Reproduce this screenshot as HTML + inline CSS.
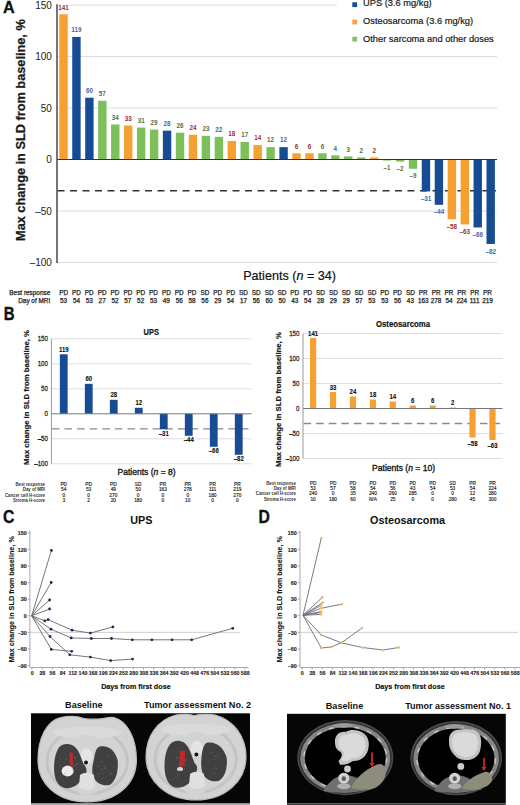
<!DOCTYPE html>
<html><head><meta charset="utf-8"><title>Figure</title>
<style>
html,body{margin:0;padding:0;background:#fff;width:520px;height:805px;overflow:hidden}
svg{display:block}
text{font-family:"Liberation Sans", sans-serif}
</style></head><body>
<svg width="520" height="805" viewBox="0 0 520 805">
<rect width="520" height="805" fill="#fff"/>
<text transform="translate(3.1,12.8) scale(1,1.02)" font-size="16.2" font-weight="bold" fill="#111" stroke="#111" stroke-width="0.3">A</text>
<text transform="translate(24.80,130.10) rotate(-90)" font-size="12.75" font-weight="bold" text-anchor="middle" fill="#1a1a1a" stroke="#1a1a1a" stroke-width="0.25">Max change in SLD from baseline, %</text>
<line x1="69.00" y1="5.00" x2="337.00" y2="5.00" stroke="#dcdcdc" stroke-width="1"/>
<line x1="57.00" y1="56.50" x2="497.00" y2="56.50" stroke="#dcdcdc" stroke-width="1"/>
<line x1="57.00" y1="108.00" x2="497.00" y2="108.00" stroke="#dcdcdc" stroke-width="1"/>
<line x1="57.00" y1="211.00" x2="497.00" y2="211.00" stroke="#dcdcdc" stroke-width="1"/>
<line x1="57.00" y1="262.50" x2="497.00" y2="262.50" stroke="#dcdcdc" stroke-width="1"/>
<text x="51.90" y="8.60" font-size="10" text-anchor="end" fill="#222">150</text>
<text x="51.90" y="60.10" font-size="10" text-anchor="end" fill="#222">100</text>
<text x="51.90" y="111.60" font-size="10" text-anchor="end" fill="#222">50</text>
<text x="51.90" y="163.10" font-size="10" text-anchor="end" fill="#222">0</text>
<text x="51.90" y="214.60" font-size="10" text-anchor="end" fill="#222">&#8211;50</text>
<text x="51.90" y="266.10" font-size="10" text-anchor="end" fill="#222">&#8211;100</text>
<line x1="57.50" y1="190.80" x2="496.00" y2="190.80" stroke="#333" stroke-width="1.5" stroke-dasharray="7 5.5"/>
<rect x="59.30" y="14.27" width="8.40" height="145.23" fill="#F5A031"/>
<text x="63.50" y="9.57" font-size="6.3" font-weight="bold" text-anchor="middle" fill="#9a3034">141</text>
<rect x="72.24" y="36.93" width="8.40" height="122.57" fill="#174C94"/>
<text x="76.44" y="32.23" font-size="6.3" font-weight="bold" text-anchor="middle" fill="#4a66a2">119</text>
<rect x="85.19" y="97.70" width="8.40" height="61.80" fill="#174C94"/>
<text x="89.39" y="93.00" font-size="6.3" font-weight="bold" text-anchor="middle" fill="#4a66a2">60</text>
<rect x="98.14" y="100.79" width="8.40" height="58.71" fill="#7DBF5B"/>
<text x="102.34" y="96.09" font-size="6.3" font-weight="bold" text-anchor="middle" fill="#53703f">57</text>
<rect x="111.08" y="124.48" width="8.40" height="35.02" fill="#7DBF5B"/>
<text x="115.28" y="119.78" font-size="6.3" font-weight="bold" text-anchor="middle" fill="#53703f">34</text>
<rect x="124.02" y="125.51" width="8.40" height="33.99" fill="#F5A031"/>
<text x="128.22" y="120.81" font-size="6.3" font-weight="bold" text-anchor="middle" fill="#9a3034">33</text>
<rect x="136.97" y="127.57" width="8.40" height="31.93" fill="#7DBF5B"/>
<text x="141.17" y="122.87" font-size="6.3" font-weight="bold" text-anchor="middle" fill="#53703f">31</text>
<rect x="149.92" y="129.63" width="8.40" height="29.87" fill="#7DBF5B"/>
<text x="154.12" y="124.93" font-size="6.3" font-weight="bold" text-anchor="middle" fill="#53703f">29</text>
<rect x="162.86" y="130.66" width="8.40" height="28.84" fill="#174C94"/>
<text x="167.06" y="125.96" font-size="6.3" font-weight="bold" text-anchor="middle" fill="#4a66a2">28</text>
<rect x="175.81" y="132.72" width="8.40" height="26.78" fill="#7DBF5B"/>
<text x="180.00" y="128.02" font-size="6.3" font-weight="bold" text-anchor="middle" fill="#53703f">26</text>
<rect x="188.75" y="134.78" width="8.40" height="24.72" fill="#F5A031"/>
<text x="192.95" y="130.08" font-size="6.3" font-weight="bold" text-anchor="middle" fill="#9a3034">24</text>
<rect x="201.70" y="135.81" width="8.40" height="23.69" fill="#7DBF5B"/>
<text x="205.90" y="131.11" font-size="6.3" font-weight="bold" text-anchor="middle" fill="#53703f">23</text>
<rect x="214.64" y="136.84" width="8.40" height="22.66" fill="#7DBF5B"/>
<text x="218.84" y="132.14" font-size="6.3" font-weight="bold" text-anchor="middle" fill="#53703f">22</text>
<rect x="227.59" y="140.96" width="8.40" height="18.54" fill="#F5A031"/>
<text x="231.78" y="136.26" font-size="6.3" font-weight="bold" text-anchor="middle" fill="#9a3034">18</text>
<rect x="240.53" y="141.99" width="8.40" height="17.51" fill="#7DBF5B"/>
<text x="244.73" y="137.29" font-size="6.3" font-weight="bold" text-anchor="middle" fill="#53703f">17</text>
<rect x="253.48" y="145.08" width="8.40" height="14.42" fill="#F5A031"/>
<text x="257.68" y="140.38" font-size="6.3" font-weight="bold" text-anchor="middle" fill="#9a3034">14</text>
<rect x="266.42" y="147.14" width="8.40" height="12.36" fill="#7DBF5B"/>
<text x="270.62" y="142.44" font-size="6.3" font-weight="bold" text-anchor="middle" fill="#53703f">12</text>
<rect x="279.37" y="147.14" width="8.40" height="12.36" fill="#174C94"/>
<text x="283.56" y="142.44" font-size="6.3" font-weight="bold" text-anchor="middle" fill="#4a66a2">12</text>
<rect x="292.31" y="153.32" width="8.40" height="6.18" fill="#F5A031"/>
<text x="296.51" y="148.62" font-size="6.3" font-weight="bold" text-anchor="middle" fill="#9a3034">6</text>
<rect x="305.26" y="153.32" width="8.40" height="6.18" fill="#F5A031"/>
<text x="309.46" y="148.62" font-size="6.3" font-weight="bold" text-anchor="middle" fill="#9a3034">6</text>
<rect x="318.20" y="153.32" width="8.40" height="6.18" fill="#7DBF5B"/>
<text x="322.40" y="148.62" font-size="6.3" font-weight="bold" text-anchor="middle" fill="#53703f">6</text>
<rect x="331.15" y="155.38" width="8.40" height="4.12" fill="#7DBF5B"/>
<text x="335.35" y="150.68" font-size="6.3" font-weight="bold" text-anchor="middle" fill="#53703f">4</text>
<rect x="344.09" y="156.41" width="8.40" height="3.09" fill="#7DBF5B"/>
<text x="348.29" y="151.71" font-size="6.3" font-weight="bold" text-anchor="middle" fill="#53703f">3</text>
<rect x="357.04" y="157.44" width="8.40" height="2.06" fill="#7DBF5B"/>
<text x="361.24" y="152.74" font-size="6.3" font-weight="bold" text-anchor="middle" fill="#53703f">2</text>
<rect x="369.98" y="157.44" width="8.40" height="2.06" fill="#F5A031"/>
<text x="374.18" y="152.74" font-size="6.3" font-weight="bold" text-anchor="middle" fill="#9a3034">2</text>
<rect x="382.93" y="159.50" width="8.40" height="1.03" fill="#7DBF5B"/>
<text x="387.12" y="170.13" font-size="6.3" font-weight="bold" text-anchor="middle" fill="#53703f">&#8211;1</text>
<rect x="395.87" y="159.50" width="8.40" height="2.06" fill="#7DBF5B"/>
<text x="400.07" y="171.16" font-size="6.3" font-weight="bold" text-anchor="middle" fill="#53703f">&#8211;2</text>
<rect x="408.81" y="159.50" width="8.40" height="9.27" fill="#7DBF5B"/>
<text x="413.01" y="178.37" font-size="6.3" font-weight="bold" text-anchor="middle" fill="#53703f">&#8211;9</text>
<rect x="421.76" y="159.50" width="8.40" height="31.93" fill="#174C94"/>
<text x="425.96" y="201.03" font-size="6.3" font-weight="bold" text-anchor="middle" fill="#4a66a2">&#8211;31</text>
<rect x="434.71" y="159.50" width="8.40" height="45.32" fill="#174C94"/>
<text x="438.91" y="214.42" font-size="6.3" font-weight="bold" text-anchor="middle" fill="#4a66a2">&#8211;44</text>
<rect x="447.65" y="159.50" width="8.40" height="59.74" fill="#F5A031"/>
<text x="451.85" y="228.84" font-size="6.3" font-weight="bold" text-anchor="middle" fill="#9a3034">&#8211;58</text>
<rect x="460.60" y="159.50" width="8.40" height="64.89" fill="#F5A031"/>
<text x="464.80" y="233.99" font-size="6.3" font-weight="bold" text-anchor="middle" fill="#9a3034">&#8211;63</text>
<rect x="473.54" y="159.50" width="8.40" height="67.98" fill="#174C94"/>
<text x="477.74" y="237.08" font-size="6.3" font-weight="bold" text-anchor="middle" fill="#4a66a2">&#8211;66</text>
<rect x="486.49" y="159.50" width="8.40" height="84.46" fill="#174C94"/>
<text x="490.69" y="253.56" font-size="6.3" font-weight="bold" text-anchor="middle" fill="#4a66a2">&#8211;82</text>
<line x1="57.00" y1="159.50" x2="497.00" y2="159.50" stroke="#333" stroke-width="1.2"/>
<line x1="57.00" y1="4.30" x2="57.00" y2="263.00" stroke="#484848" stroke-width="1.5"/>
<rect x="337.00" y="0.00" width="183.00" height="48.00" fill="#fff"/>
<rect x="352.30" y="2.30" width="4.80" height="4.80" fill="#174C94"/>
<text x="363.00" y="6.30" font-size="9.3" fill="#1a1a1a" stroke="#1a1a1a" stroke-width="0.2">UPS (3.6 mg/kg)</text>
<rect x="352.30" y="19.60" width="4.80" height="4.80" fill="#F2A24A"/>
<text x="363.00" y="24.10" font-size="9.3" fill="#1a1a1a" stroke="#1a1a1a" stroke-width="0.2">Osteosarcoma (3.6 mg/kg)</text>
<rect x="352.30" y="36.80" width="4.80" height="4.80" fill="#86C068"/>
<text x="363.00" y="41.90" font-size="9.3" fill="#1a1a1a" stroke="#1a1a1a" stroke-width="0.2">Other sarcoma and other doses</text>
<text x="289.60" y="279.80" font-size="12.6" text-anchor="middle" fill="#111" stroke="#111" stroke-width="0.2">Patients (<tspan font-style="italic">n</tspan> = 34)</text>
<text x="50.20" y="295.30" font-size="6.4" text-anchor="end" fill="#222" stroke="#222" stroke-width="0.25">Best response</text>
<text x="50.20" y="303.00" font-size="6.4" text-anchor="end" fill="#222" stroke="#222" stroke-width="0.25">Day of MRI</text>
<text x="63.60" y="295.30" font-size="6.4" text-anchor="middle" fill="#222" stroke="#222" stroke-width="0.25">PD</text>
<text x="63.60" y="303.00" font-size="6.4" text-anchor="middle" fill="#222" stroke="#222" stroke-width="0.25">53</text>
<text x="76.45" y="295.30" font-size="6.4" text-anchor="middle" fill="#222" stroke="#222" stroke-width="0.25">PD</text>
<text x="76.45" y="303.00" font-size="6.4" text-anchor="middle" fill="#222" stroke="#222" stroke-width="0.25">54</text>
<text x="89.29" y="295.30" font-size="6.4" text-anchor="middle" fill="#222" stroke="#222" stroke-width="0.25">PD</text>
<text x="89.29" y="303.00" font-size="6.4" text-anchor="middle" fill="#222" stroke="#222" stroke-width="0.25">53</text>
<text x="102.14" y="295.30" font-size="6.4" text-anchor="middle" fill="#222" stroke="#222" stroke-width="0.25">PD</text>
<text x="102.14" y="303.00" font-size="6.4" text-anchor="middle" fill="#222" stroke="#222" stroke-width="0.25">27</text>
<text x="114.98" y="295.30" font-size="6.4" text-anchor="middle" fill="#222" stroke="#222" stroke-width="0.25">PD</text>
<text x="114.98" y="303.00" font-size="6.4" text-anchor="middle" fill="#222" stroke="#222" stroke-width="0.25">52</text>
<text x="127.83" y="295.30" font-size="6.4" text-anchor="middle" fill="#222" stroke="#222" stroke-width="0.25">PD</text>
<text x="127.83" y="303.00" font-size="6.4" text-anchor="middle" fill="#222" stroke="#222" stroke-width="0.25">57</text>
<text x="140.67" y="295.30" font-size="6.4" text-anchor="middle" fill="#222" stroke="#222" stroke-width="0.25">PD</text>
<text x="140.67" y="303.00" font-size="6.4" text-anchor="middle" fill="#222" stroke="#222" stroke-width="0.25">52</text>
<text x="153.52" y="295.30" font-size="6.4" text-anchor="middle" fill="#222" stroke="#222" stroke-width="0.25">PD</text>
<text x="153.52" y="303.00" font-size="6.4" text-anchor="middle" fill="#222" stroke="#222" stroke-width="0.25">53</text>
<text x="166.36" y="295.30" font-size="6.4" text-anchor="middle" fill="#222" stroke="#222" stroke-width="0.25">PD</text>
<text x="166.36" y="303.00" font-size="6.4" text-anchor="middle" fill="#222" stroke="#222" stroke-width="0.25">49</text>
<text x="179.21" y="295.30" font-size="6.4" text-anchor="middle" fill="#222" stroke="#222" stroke-width="0.25">PD</text>
<text x="179.21" y="303.00" font-size="6.4" text-anchor="middle" fill="#222" stroke="#222" stroke-width="0.25">56</text>
<text x="192.05" y="295.30" font-size="6.4" text-anchor="middle" fill="#222" stroke="#222" stroke-width="0.25">PD</text>
<text x="192.05" y="303.00" font-size="6.4" text-anchor="middle" fill="#222" stroke="#222" stroke-width="0.25">58</text>
<text x="204.90" y="295.30" font-size="6.4" text-anchor="middle" fill="#222" stroke="#222" stroke-width="0.25">SD</text>
<text x="204.90" y="303.00" font-size="6.4" text-anchor="middle" fill="#222" stroke="#222" stroke-width="0.25">56</text>
<text x="217.74" y="295.30" font-size="6.4" text-anchor="middle" fill="#222" stroke="#222" stroke-width="0.25">PD</text>
<text x="217.74" y="303.00" font-size="6.4" text-anchor="middle" fill="#222" stroke="#222" stroke-width="0.25">29</text>
<text x="230.59" y="295.30" font-size="6.4" text-anchor="middle" fill="#222" stroke="#222" stroke-width="0.25">PD</text>
<text x="230.59" y="303.00" font-size="6.4" text-anchor="middle" fill="#222" stroke="#222" stroke-width="0.25">54</text>
<text x="243.43" y="295.30" font-size="6.4" text-anchor="middle" fill="#222" stroke="#222" stroke-width="0.25">SD</text>
<text x="243.43" y="303.00" font-size="6.4" text-anchor="middle" fill="#222" stroke="#222" stroke-width="0.25">17</text>
<text x="256.28" y="295.30" font-size="6.4" text-anchor="middle" fill="#222" stroke="#222" stroke-width="0.25">SD</text>
<text x="256.28" y="303.00" font-size="6.4" text-anchor="middle" fill="#222" stroke="#222" stroke-width="0.25">56</text>
<text x="269.12" y="295.30" font-size="6.4" text-anchor="middle" fill="#222" stroke="#222" stroke-width="0.25">SD</text>
<text x="269.12" y="303.00" font-size="6.4" text-anchor="middle" fill="#222" stroke="#222" stroke-width="0.25">60</text>
<text x="281.97" y="295.30" font-size="6.4" text-anchor="middle" fill="#222" stroke="#222" stroke-width="0.25">SD</text>
<text x="281.97" y="303.00" font-size="6.4" text-anchor="middle" fill="#222" stroke="#222" stroke-width="0.25">50</text>
<text x="294.81" y="295.30" font-size="6.4" text-anchor="middle" fill="#222" stroke="#222" stroke-width="0.25">PD</text>
<text x="294.81" y="303.00" font-size="6.4" text-anchor="middle" fill="#222" stroke="#222" stroke-width="0.25">43</text>
<text x="307.66" y="295.30" font-size="6.4" text-anchor="middle" fill="#222" stroke="#222" stroke-width="0.25">PD</text>
<text x="307.66" y="303.00" font-size="6.4" text-anchor="middle" fill="#222" stroke="#222" stroke-width="0.25">54</text>
<text x="320.50" y="295.30" font-size="6.4" text-anchor="middle" fill="#222" stroke="#222" stroke-width="0.25">SD</text>
<text x="320.50" y="303.00" font-size="6.4" text-anchor="middle" fill="#222" stroke="#222" stroke-width="0.25">28</text>
<text x="333.35" y="295.30" font-size="6.4" text-anchor="middle" fill="#222" stroke="#222" stroke-width="0.25">SD</text>
<text x="333.35" y="303.00" font-size="6.4" text-anchor="middle" fill="#222" stroke="#222" stroke-width="0.25">29</text>
<text x="346.19" y="295.30" font-size="6.4" text-anchor="middle" fill="#222" stroke="#222" stroke-width="0.25">SD</text>
<text x="346.19" y="303.00" font-size="6.4" text-anchor="middle" fill="#222" stroke="#222" stroke-width="0.25">29</text>
<text x="359.04" y="295.30" font-size="6.4" text-anchor="middle" fill="#222" stroke="#222" stroke-width="0.25">SD</text>
<text x="359.04" y="303.00" font-size="6.4" text-anchor="middle" fill="#222" stroke="#222" stroke-width="0.25">57</text>
<text x="371.88" y="295.30" font-size="6.4" text-anchor="middle" fill="#222" stroke="#222" stroke-width="0.25">SD</text>
<text x="371.88" y="303.00" font-size="6.4" text-anchor="middle" fill="#222" stroke="#222" stroke-width="0.25">53</text>
<text x="384.73" y="295.30" font-size="6.4" text-anchor="middle" fill="#222" stroke="#222" stroke-width="0.25">PD</text>
<text x="384.73" y="303.00" font-size="6.4" text-anchor="middle" fill="#222" stroke="#222" stroke-width="0.25">53</text>
<text x="397.57" y="295.30" font-size="6.4" text-anchor="middle" fill="#222" stroke="#222" stroke-width="0.25">PD</text>
<text x="397.57" y="303.00" font-size="6.4" text-anchor="middle" fill="#222" stroke="#222" stroke-width="0.25">56</text>
<text x="410.42" y="295.30" font-size="6.4" text-anchor="middle" fill="#222" stroke="#222" stroke-width="0.25">SD</text>
<text x="410.42" y="303.00" font-size="6.4" text-anchor="middle" fill="#222" stroke="#222" stroke-width="0.25">43</text>
<text x="423.26" y="295.30" font-size="6.4" text-anchor="middle" fill="#222" stroke="#222" stroke-width="0.25">PR</text>
<text x="423.26" y="303.00" font-size="6.4" text-anchor="middle" fill="#222" stroke="#222" stroke-width="0.25">163</text>
<text x="436.11" y="295.30" font-size="6.4" text-anchor="middle" fill="#222" stroke="#222" stroke-width="0.25">PR</text>
<text x="436.11" y="303.00" font-size="6.4" text-anchor="middle" fill="#222" stroke="#222" stroke-width="0.25">278</text>
<text x="448.95" y="295.30" font-size="6.4" text-anchor="middle" fill="#222" stroke="#222" stroke-width="0.25">PR</text>
<text x="448.95" y="303.00" font-size="6.4" text-anchor="middle" fill="#222" stroke="#222" stroke-width="0.25">54</text>
<text x="461.80" y="295.30" font-size="6.4" text-anchor="middle" fill="#222" stroke="#222" stroke-width="0.25">PR</text>
<text x="461.80" y="303.00" font-size="6.4" text-anchor="middle" fill="#222" stroke="#222" stroke-width="0.25">224</text>
<text x="474.64" y="295.30" font-size="6.4" text-anchor="middle" fill="#222" stroke="#222" stroke-width="0.25">PR</text>
<text x="474.64" y="303.00" font-size="6.4" text-anchor="middle" fill="#222" stroke="#222" stroke-width="0.25">111</text>
<text x="487.49" y="295.30" font-size="6.4" text-anchor="middle" fill="#222" stroke="#222" stroke-width="0.25">PR</text>
<text x="487.49" y="303.00" font-size="6.4" text-anchor="middle" fill="#222" stroke="#222" stroke-width="0.25">219</text>
<text transform="translate(3.7,320.1) scale(1.0,1.23)" font-size="15" font-weight="bold" fill="#111" stroke="#111" stroke-width="0.3">B</text>
<line x1="51.40" y1="338.80" x2="251.50" y2="338.80" stroke="#dedede" stroke-width="1"/>
<line x1="51.40" y1="363.80" x2="251.50" y2="363.80" stroke="#dedede" stroke-width="1"/>
<line x1="51.40" y1="388.80" x2="251.50" y2="388.80" stroke="#dedede" stroke-width="1"/>
<line x1="51.40" y1="438.80" x2="251.50" y2="438.80" stroke="#dedede" stroke-width="1"/>
<line x1="51.40" y1="463.80" x2="251.50" y2="463.80" stroke="#dedede" stroke-width="1"/>
<text transform="translate(48.00,341.40) scale(1,1.28)" font-size="6.2" text-anchor="end" fill="#222" stroke="#222" stroke-width="0.2">150</text>
<text transform="translate(48.00,366.40) scale(1,1.28)" font-size="6.2" text-anchor="end" fill="#222" stroke="#222" stroke-width="0.2">100</text>
<text transform="translate(48.00,391.40) scale(1,1.28)" font-size="6.2" text-anchor="end" fill="#222" stroke="#222" stroke-width="0.2">50</text>
<text transform="translate(48.00,416.40) scale(1,1.28)" font-size="6.2" text-anchor="end" fill="#222" stroke="#222" stroke-width="0.2">0</text>
<text transform="translate(48.00,441.40) scale(1,1.28)" font-size="6.2" text-anchor="end" fill="#222" stroke="#222" stroke-width="0.2">&#8211;50</text>
<text transform="translate(48.00,466.40) scale(1,1.28)" font-size="6.2" text-anchor="end" fill="#222" stroke="#222" stroke-width="0.2">&#8211;100</text>
<line x1="51.90" y1="428.80" x2="251.50" y2="428.80" stroke="#8a8a8a" stroke-width="1.3" stroke-dasharray="7.6 5"/>
<rect x="59.85" y="354.30" width="7.80" height="59.50" fill="#174C94"/>
<text transform="translate(63.75,351.90) scale(1,1.05)" font-size="6.0" font-weight="bold" text-anchor="middle" fill="#111" stroke="#111" stroke-width="0.1">119</text>
<rect x="84.85" y="383.80" width="7.80" height="30.00" fill="#174C94"/>
<text transform="translate(88.75,381.40) scale(1,1.05)" font-size="6.0" font-weight="bold" text-anchor="middle" fill="#111" stroke="#111" stroke-width="0.1">60</text>
<rect x="109.85" y="399.80" width="7.80" height="14.00" fill="#174C94"/>
<text transform="translate(113.75,397.40) scale(1,1.05)" font-size="6.0" font-weight="bold" text-anchor="middle" fill="#111" stroke="#111" stroke-width="0.1">28</text>
<rect x="134.85" y="407.80" width="7.80" height="6.00" fill="#174C94"/>
<text transform="translate(138.75,405.40) scale(1,1.05)" font-size="6.0" font-weight="bold" text-anchor="middle" fill="#111" stroke="#111" stroke-width="0.1">12</text>
<rect x="159.85" y="413.80" width="7.80" height="15.50" fill="#174C94"/>
<text transform="translate(163.75,435.90) scale(1,1.05)" font-size="6.0" font-weight="bold" text-anchor="middle" fill="#111" stroke="#111" stroke-width="0.1">&#8211;31</text>
<rect x="184.85" y="413.80" width="7.80" height="22.00" fill="#174C94"/>
<text transform="translate(188.75,442.40) scale(1,1.05)" font-size="6.0" font-weight="bold" text-anchor="middle" fill="#111" stroke="#111" stroke-width="0.1">&#8211;44</text>
<rect x="209.85" y="413.80" width="7.80" height="33.00" fill="#174C94"/>
<text transform="translate(213.75,453.40) scale(1,1.05)" font-size="6.0" font-weight="bold" text-anchor="middle" fill="#111" stroke="#111" stroke-width="0.1">&#8211;66</text>
<rect x="234.85" y="413.80" width="7.80" height="41.00" fill="#174C94"/>
<text transform="translate(238.75,461.40) scale(1,1.05)" font-size="6.0" font-weight="bold" text-anchor="middle" fill="#111" stroke="#111" stroke-width="0.1">&#8211;82</text>
<line x1="51.40" y1="413.80" x2="251.50" y2="413.80" stroke="#777" stroke-width="1"/>
<line x1="51.40" y1="338.80" x2="51.40" y2="463.80" stroke="#999" stroke-width="1"/>
<text transform="translate(151.20,335.20) scale(1,1.22)" font-size="7.5" font-weight="bold" text-anchor="middle" fill="#111" stroke="#111" stroke-width="0.15">UPS</text>
<text transform="translate(29.00,397.50) rotate(-90)" font-size="7.75" font-weight="bold" text-anchor="middle" fill="#1a1a1a" stroke="#1a1a1a" stroke-width="0.2">Max change in SLD from baseline, %</text>
<text x="146.60" y="475.30" font-size="8.55" text-anchor="middle" fill="#111" stroke="#111" stroke-width="0.32">Patients (<tspan font-style="italic">n</tspan> = 8)</text>
<text transform="translate(45.00,485.90) scale(1,1.12)" font-size="4.3" font-weight="bold" text-anchor="end" fill="#333">Best response</text>
<text x="63.75" y="485.90" font-size="4.8" text-anchor="middle" fill="#222" stroke="#222" stroke-width="0.15">PD</text>
<text x="88.55" y="485.90" font-size="4.8" text-anchor="middle" fill="#222" stroke="#222" stroke-width="0.15">PD</text>
<text x="113.35" y="485.90" font-size="4.8" text-anchor="middle" fill="#222" stroke="#222" stroke-width="0.15">PD</text>
<text x="138.15" y="485.90" font-size="4.8" text-anchor="middle" fill="#222" stroke="#222" stroke-width="0.15">SD</text>
<text x="162.95" y="485.90" font-size="4.8" text-anchor="middle" fill="#222" stroke="#222" stroke-width="0.15">PR</text>
<text x="187.75" y="485.90" font-size="4.8" text-anchor="middle" fill="#222" stroke="#222" stroke-width="0.15">PR</text>
<text x="212.55" y="485.90" font-size="4.8" text-anchor="middle" fill="#222" stroke="#222" stroke-width="0.15">PR</text>
<text x="237.35" y="485.90" font-size="4.8" text-anchor="middle" fill="#222" stroke="#222" stroke-width="0.15">PR</text>
<text transform="translate(45.00,491.40) scale(1,1.12)" font-size="4.3" font-weight="bold" text-anchor="end" fill="#333">Day of MRI</text>
<text x="63.75" y="491.40" font-size="4.8" text-anchor="middle" fill="#222" stroke="#222" stroke-width="0.15">54</text>
<text x="88.55" y="491.40" font-size="4.8" text-anchor="middle" fill="#222" stroke="#222" stroke-width="0.15">53</text>
<text x="113.35" y="491.40" font-size="4.8" text-anchor="middle" fill="#222" stroke="#222" stroke-width="0.15">49</text>
<text x="138.15" y="491.40" font-size="4.8" text-anchor="middle" fill="#222" stroke="#222" stroke-width="0.15">50</text>
<text x="162.95" y="491.40" font-size="4.8" text-anchor="middle" fill="#222" stroke="#222" stroke-width="0.15">163</text>
<text x="187.75" y="491.40" font-size="4.8" text-anchor="middle" fill="#222" stroke="#222" stroke-width="0.15">278</text>
<text x="212.55" y="491.40" font-size="4.8" text-anchor="middle" fill="#222" stroke="#222" stroke-width="0.15">111</text>
<text x="237.35" y="491.40" font-size="4.8" text-anchor="middle" fill="#222" stroke="#222" stroke-width="0.15">219</text>
<text transform="translate(45.00,496.90) scale(1,1.12)" font-size="4.3" font-weight="bold" text-anchor="end" fill="#333">Cancer cell H-score</text>
<text x="63.75" y="496.90" font-size="4.8" text-anchor="middle" fill="#222" stroke="#222" stroke-width="0.15">0</text>
<text x="88.55" y="496.90" font-size="4.8" text-anchor="middle" fill="#222" stroke="#222" stroke-width="0.15">0</text>
<text x="113.35" y="496.90" font-size="4.8" text-anchor="middle" fill="#222" stroke="#222" stroke-width="0.15">270</text>
<text x="138.15" y="496.90" font-size="4.8" text-anchor="middle" fill="#222" stroke="#222" stroke-width="0.15">0</text>
<text x="162.95" y="496.90" font-size="4.8" text-anchor="middle" fill="#222" stroke="#222" stroke-width="0.15">0</text>
<text x="187.75" y="496.90" font-size="4.8" text-anchor="middle" fill="#222" stroke="#222" stroke-width="0.15">0</text>
<text x="212.55" y="496.90" font-size="4.8" text-anchor="middle" fill="#222" stroke="#222" stroke-width="0.15">180</text>
<text x="237.35" y="496.90" font-size="4.8" text-anchor="middle" fill="#222" stroke="#222" stroke-width="0.15">270</text>
<text transform="translate(45.00,502.30) scale(1,1.12)" font-size="4.3" font-weight="bold" text-anchor="end" fill="#333">Stroma H-score</text>
<text x="63.75" y="502.30" font-size="4.8" text-anchor="middle" fill="#222" stroke="#222" stroke-width="0.15">3</text>
<text x="88.55" y="502.30" font-size="4.8" text-anchor="middle" fill="#222" stroke="#222" stroke-width="0.15">2</text>
<text x="113.35" y="502.30" font-size="4.8" text-anchor="middle" fill="#222" stroke="#222" stroke-width="0.15">20</text>
<text x="138.15" y="502.30" font-size="4.8" text-anchor="middle" fill="#222" stroke="#222" stroke-width="0.15">180</text>
<text x="162.95" y="502.30" font-size="4.8" text-anchor="middle" fill="#222" stroke="#222" stroke-width="0.15">0</text>
<text x="187.75" y="502.30" font-size="4.8" text-anchor="middle" fill="#222" stroke="#222" stroke-width="0.15">10</text>
<text x="212.55" y="502.30" font-size="4.8" text-anchor="middle" fill="#222" stroke="#222" stroke-width="0.15">0</text>
<text x="237.35" y="502.30" font-size="4.8" text-anchor="middle" fill="#222" stroke="#222" stroke-width="0.15">0</text>
<line x1="303.00" y1="333.50" x2="502.50" y2="333.50" stroke="#dedede" stroke-width="1"/>
<line x1="303.00" y1="358.50" x2="502.50" y2="358.50" stroke="#dedede" stroke-width="1"/>
<line x1="303.00" y1="383.50" x2="502.50" y2="383.50" stroke="#dedede" stroke-width="1"/>
<line x1="303.00" y1="433.50" x2="502.50" y2="433.50" stroke="#dedede" stroke-width="1"/>
<line x1="303.00" y1="458.50" x2="502.50" y2="458.50" stroke="#dedede" stroke-width="1"/>
<text transform="translate(299.50,336.10) scale(1,1.28)" font-size="6.2" text-anchor="end" fill="#222" stroke="#222" stroke-width="0.2">150</text>
<text transform="translate(299.50,361.10) scale(1,1.28)" font-size="6.2" text-anchor="end" fill="#222" stroke="#222" stroke-width="0.2">100</text>
<text transform="translate(299.50,386.10) scale(1,1.28)" font-size="6.2" text-anchor="end" fill="#222" stroke="#222" stroke-width="0.2">50</text>
<text transform="translate(299.50,411.10) scale(1,1.28)" font-size="6.2" text-anchor="end" fill="#222" stroke="#222" stroke-width="0.2">0</text>
<text transform="translate(299.50,436.10) scale(1,1.28)" font-size="6.2" text-anchor="end" fill="#222" stroke="#222" stroke-width="0.2">&#8211;50</text>
<text transform="translate(299.50,461.10) scale(1,1.28)" font-size="6.2" text-anchor="end" fill="#222" stroke="#222" stroke-width="0.2">&#8211;100</text>
<line x1="303.50" y1="423.50" x2="502.50" y2="423.50" stroke="#8a8a8a" stroke-width="1.3" stroke-dasharray="7.6 5"/>
<rect x="310.00" y="338.00" width="6.20" height="70.50" fill="#F5A031"/>
<text transform="translate(313.10,335.60) scale(1,1.05)" font-size="6.0" font-weight="bold" text-anchor="middle" fill="#111" stroke="#111" stroke-width="0.1">141</text>
<rect x="329.93" y="392.00" width="6.20" height="16.50" fill="#F5A031"/>
<text transform="translate(333.03,389.60) scale(1,1.05)" font-size="6.0" font-weight="bold" text-anchor="middle" fill="#111" stroke="#111" stroke-width="0.1">33</text>
<rect x="349.86" y="396.50" width="6.20" height="12.00" fill="#F5A031"/>
<text transform="translate(352.96,394.10) scale(1,1.05)" font-size="6.0" font-weight="bold" text-anchor="middle" fill="#111" stroke="#111" stroke-width="0.1">24</text>
<rect x="369.79" y="399.50" width="6.20" height="9.00" fill="#F5A031"/>
<text transform="translate(372.89,397.10) scale(1,1.05)" font-size="6.0" font-weight="bold" text-anchor="middle" fill="#111" stroke="#111" stroke-width="0.1">18</text>
<rect x="389.72" y="401.50" width="6.20" height="7.00" fill="#F5A031"/>
<text transform="translate(392.82,399.10) scale(1,1.05)" font-size="6.0" font-weight="bold" text-anchor="middle" fill="#111" stroke="#111" stroke-width="0.1">14</text>
<rect x="409.65" y="405.50" width="6.20" height="3.00" fill="#F5A031"/>
<text transform="translate(412.75,403.10) scale(1,1.05)" font-size="6.0" font-weight="bold" text-anchor="middle" fill="#111" stroke="#111" stroke-width="0.1">6</text>
<rect x="429.58" y="405.50" width="6.20" height="3.00" fill="#F5A031"/>
<text transform="translate(432.68,403.10) scale(1,1.05)" font-size="6.0" font-weight="bold" text-anchor="middle" fill="#111" stroke="#111" stroke-width="0.1">6</text>
<rect x="449.51" y="407.50" width="6.20" height="1.00" fill="#F5A031"/>
<text transform="translate(452.61,405.10) scale(1,1.05)" font-size="6.0" font-weight="bold" text-anchor="middle" fill="#111" stroke="#111" stroke-width="0.1">2</text>
<rect x="469.44" y="408.50" width="6.20" height="29.00" fill="#F5A031"/>
<text transform="translate(472.54,445.90) scale(1,1.05)" font-size="6.0" font-weight="bold" text-anchor="middle" fill="#111" stroke="#111" stroke-width="0.1">&#8211;58</text>
<rect x="489.37" y="408.50" width="6.20" height="31.50" fill="#F5A031"/>
<text transform="translate(492.47,448.40) scale(1,1.05)" font-size="6.0" font-weight="bold" text-anchor="middle" fill="#111" stroke="#111" stroke-width="0.1">&#8211;63</text>
<line x1="303.00" y1="408.50" x2="502.50" y2="408.50" stroke="#777" stroke-width="1"/>
<line x1="303.00" y1="333.50" x2="303.00" y2="458.50" stroke="#999" stroke-width="1"/>
<text transform="translate(403.00,327.30) scale(1,1.22)" font-size="7.8" font-weight="bold" text-anchor="middle" fill="#111" stroke="#111" stroke-width="0.15">Osteosarcoma</text>
<text transform="translate(281.00,399.60) rotate(-90)" font-size="7.75" font-weight="bold" text-anchor="middle" fill="#1a1a1a" stroke="#1a1a1a" stroke-width="0.2">Max change in SLD from baseline, %</text>
<text x="403.60" y="470.80" font-size="8.55" text-anchor="middle" fill="#111" stroke="#111" stroke-width="0.32">Patients (<tspan font-style="italic">n</tspan> = 10)</text>
<text transform="translate(295.80,484.50) scale(1,1.12)" font-size="4.3" font-weight="bold" text-anchor="end" fill="#333">Best response</text>
<text x="313.10" y="484.50" font-size="4.8" text-anchor="middle" fill="#222" stroke="#222" stroke-width="0.15">PD</text>
<text x="333.03" y="484.50" font-size="4.8" text-anchor="middle" fill="#222" stroke="#222" stroke-width="0.15">PD</text>
<text x="352.96" y="484.50" font-size="4.8" text-anchor="middle" fill="#222" stroke="#222" stroke-width="0.15">PD</text>
<text x="372.89" y="484.50" font-size="4.8" text-anchor="middle" fill="#222" stroke="#222" stroke-width="0.15">PD</text>
<text x="392.82" y="484.50" font-size="4.8" text-anchor="middle" fill="#222" stroke="#222" stroke-width="0.15">PD</text>
<text x="412.75" y="484.50" font-size="4.8" text-anchor="middle" fill="#222" stroke="#222" stroke-width="0.15">PD</text>
<text x="432.68" y="484.50" font-size="4.8" text-anchor="middle" fill="#222" stroke="#222" stroke-width="0.15">PD</text>
<text x="452.61" y="484.50" font-size="4.8" text-anchor="middle" fill="#222" stroke="#222" stroke-width="0.15">SD</text>
<text x="472.54" y="484.50" font-size="4.8" text-anchor="middle" fill="#222" stroke="#222" stroke-width="0.15">PR</text>
<text x="492.47" y="484.50" font-size="4.8" text-anchor="middle" fill="#222" stroke="#222" stroke-width="0.15">PR</text>
<text transform="translate(295.80,489.90) scale(1,1.12)" font-size="4.3" font-weight="bold" text-anchor="end" fill="#333">Day of MRI</text>
<text x="313.10" y="489.90" font-size="4.8" text-anchor="middle" fill="#222" stroke="#222" stroke-width="0.15">53</text>
<text x="333.03" y="489.90" font-size="4.8" text-anchor="middle" fill="#222" stroke="#222" stroke-width="0.15">57</text>
<text x="352.96" y="489.90" font-size="4.8" text-anchor="middle" fill="#222" stroke="#222" stroke-width="0.15">58</text>
<text x="372.89" y="489.90" font-size="4.8" text-anchor="middle" fill="#222" stroke="#222" stroke-width="0.15">54</text>
<text x="392.82" y="489.90" font-size="4.8" text-anchor="middle" fill="#222" stroke="#222" stroke-width="0.15">56</text>
<text x="412.75" y="489.90" font-size="4.8" text-anchor="middle" fill="#222" stroke="#222" stroke-width="0.15">43</text>
<text x="432.68" y="489.90" font-size="4.8" text-anchor="middle" fill="#222" stroke="#222" stroke-width="0.15">54</text>
<text x="452.61" y="489.90" font-size="4.8" text-anchor="middle" fill="#222" stroke="#222" stroke-width="0.15">53</text>
<text x="472.54" y="489.90" font-size="4.8" text-anchor="middle" fill="#222" stroke="#222" stroke-width="0.15">54</text>
<text x="492.47" y="489.90" font-size="4.8" text-anchor="middle" fill="#222" stroke="#222" stroke-width="0.15">224</text>
<text transform="translate(295.80,495.40) scale(1,1.12)" font-size="4.3" font-weight="bold" text-anchor="end" fill="#333">Cancer cell H-score</text>
<text x="313.10" y="495.40" font-size="4.8" text-anchor="middle" fill="#222" stroke="#222" stroke-width="0.15">240</text>
<text x="333.03" y="495.40" font-size="4.8" text-anchor="middle" fill="#222" stroke="#222" stroke-width="0.15">0</text>
<text x="352.96" y="495.40" font-size="4.8" text-anchor="middle" fill="#222" stroke="#222" stroke-width="0.15">35</text>
<text x="372.89" y="495.40" font-size="4.8" text-anchor="middle" fill="#222" stroke="#222" stroke-width="0.15">240</text>
<text x="392.82" y="495.40" font-size="4.8" text-anchor="middle" fill="#222" stroke="#222" stroke-width="0.15">260</text>
<text x="412.75" y="495.40" font-size="4.8" text-anchor="middle" fill="#222" stroke="#222" stroke-width="0.15">285</text>
<text x="432.68" y="495.40" font-size="4.8" text-anchor="middle" fill="#222" stroke="#222" stroke-width="0.15">0</text>
<text x="452.61" y="495.40" font-size="4.8" text-anchor="middle" fill="#222" stroke="#222" stroke-width="0.15">0</text>
<text x="472.54" y="495.40" font-size="4.8" text-anchor="middle" fill="#222" stroke="#222" stroke-width="0.15">12</text>
<text x="492.47" y="495.40" font-size="4.8" text-anchor="middle" fill="#222" stroke="#222" stroke-width="0.15">280</text>
<text transform="translate(295.80,500.80) scale(1,1.12)" font-size="4.3" font-weight="bold" text-anchor="end" fill="#333">Stroma H-score</text>
<text x="313.10" y="500.80" font-size="4.8" text-anchor="middle" fill="#222" stroke="#222" stroke-width="0.15">10</text>
<text x="333.03" y="500.80" font-size="4.8" text-anchor="middle" fill="#222" stroke="#222" stroke-width="0.15">180</text>
<text x="352.96" y="500.80" font-size="4.8" text-anchor="middle" fill="#222" stroke="#222" stroke-width="0.15">60</text>
<text x="372.89" y="500.80" font-size="4.8" text-anchor="middle" fill="#222" stroke="#222" stroke-width="0.15">N/A</text>
<text x="392.82" y="500.80" font-size="4.8" text-anchor="middle" fill="#222" stroke="#222" stroke-width="0.15">25</text>
<text x="412.75" y="500.80" font-size="4.8" text-anchor="middle" fill="#222" stroke="#222" stroke-width="0.15">0</text>
<text x="432.68" y="500.80" font-size="4.8" text-anchor="middle" fill="#222" stroke="#222" stroke-width="0.15">0</text>
<text x="452.61" y="500.80" font-size="4.8" text-anchor="middle" fill="#222" stroke="#222" stroke-width="0.15">280</text>
<text x="472.54" y="500.80" font-size="4.8" text-anchor="middle" fill="#222" stroke="#222" stroke-width="0.15">45</text>
<text x="492.47" y="500.80" font-size="4.8" text-anchor="middle" fill="#222" stroke="#222" stroke-width="0.15">300</text>
<text transform="translate(3.00,523.00) scale(1.05,1.25)" font-size="15" font-weight="bold" fill="#111" stroke="#111" stroke-width="0.3">C</text>
<text x="141.40" y="523.80" font-size="10.8" font-weight="bold" text-anchor="middle" fill="#111">UPS</text>
<line x1="29.90" y1="632.35" x2="240.00" y2="632.35" stroke="#cfcfcf" stroke-width="1"/>
<line x1="29.90" y1="530.50" x2="29.90" y2="667.50" stroke="#aaa" stroke-width="1"/>
<line x1="29.90" y1="667.50" x2="248.50" y2="667.50" stroke="#aaa" stroke-width="1"/>
<line x1="27.70" y1="665.55" x2="29.90" y2="665.55" stroke="#999" stroke-width="0.8"/>
<text transform="translate(26.70,667.85) scale(1,1.1)" font-size="5.4" font-weight="bold" text-anchor="end" fill="#222" stroke="#222" stroke-width="0.12">&#8211;90</text>
<line x1="27.70" y1="648.95" x2="29.90" y2="648.95" stroke="#999" stroke-width="0.8"/>
<text transform="translate(26.70,651.25) scale(1,1.1)" font-size="5.4" font-weight="bold" text-anchor="end" fill="#222" stroke="#222" stroke-width="0.12">&#8211;60</text>
<line x1="27.70" y1="632.35" x2="29.90" y2="632.35" stroke="#999" stroke-width="0.8"/>
<text transform="translate(26.70,634.65) scale(1,1.1)" font-size="5.4" font-weight="bold" text-anchor="end" fill="#222" stroke="#222" stroke-width="0.12">&#8211;30</text>
<line x1="27.70" y1="615.75" x2="29.90" y2="615.75" stroke="#999" stroke-width="0.8"/>
<text transform="translate(26.70,618.05) scale(1,1.1)" font-size="5.4" font-weight="bold" text-anchor="end" fill="#222" stroke="#222" stroke-width="0.12">0</text>
<line x1="27.70" y1="599.15" x2="29.90" y2="599.15" stroke="#999" stroke-width="0.8"/>
<text transform="translate(26.70,601.45) scale(1,1.1)" font-size="5.4" font-weight="bold" text-anchor="end" fill="#222" stroke="#222" stroke-width="0.12">30</text>
<line x1="27.70" y1="582.55" x2="29.90" y2="582.55" stroke="#999" stroke-width="0.8"/>
<text transform="translate(26.70,584.85) scale(1,1.1)" font-size="5.4" font-weight="bold" text-anchor="end" fill="#222" stroke="#222" stroke-width="0.12">60</text>
<line x1="27.70" y1="565.95" x2="29.90" y2="565.95" stroke="#999" stroke-width="0.8"/>
<text transform="translate(26.70,568.25) scale(1,1.1)" font-size="5.4" font-weight="bold" text-anchor="end" fill="#222" stroke="#222" stroke-width="0.12">90</text>
<line x1="27.70" y1="549.35" x2="29.90" y2="549.35" stroke="#999" stroke-width="0.8"/>
<text transform="translate(26.70,551.65) scale(1,1.1)" font-size="5.4" font-weight="bold" text-anchor="end" fill="#222" stroke="#222" stroke-width="0.12">120</text>
<line x1="27.70" y1="532.75" x2="29.90" y2="532.75" stroke="#999" stroke-width="0.8"/>
<text transform="translate(26.70,535.05) scale(1,1.1)" font-size="5.4" font-weight="bold" text-anchor="end" fill="#222" stroke="#222" stroke-width="0.12">150</text>
<line x1="31.90" y1="667.50" x2="31.90" y2="669.60" stroke="#999" stroke-width="0.8"/>
<text x="32.20" y="674.80" font-size="5.3" font-weight="bold" text-anchor="middle" fill="#222" stroke="#222" stroke-width="0.1">0</text>
<line x1="42.05" y1="667.50" x2="42.05" y2="669.60" stroke="#999" stroke-width="0.8"/>
<text x="42.35" y="674.80" font-size="5.3" font-weight="bold" text-anchor="middle" fill="#222" stroke="#222" stroke-width="0.1">28</text>
<line x1="52.19" y1="667.50" x2="52.19" y2="669.60" stroke="#999" stroke-width="0.8"/>
<text x="52.49" y="674.80" font-size="5.3" font-weight="bold" text-anchor="middle" fill="#222" stroke="#222" stroke-width="0.1">56</text>
<line x1="62.34" y1="667.50" x2="62.34" y2="669.60" stroke="#999" stroke-width="0.8"/>
<text x="62.64" y="674.80" font-size="5.3" font-weight="bold" text-anchor="middle" fill="#222" stroke="#222" stroke-width="0.1">84</text>
<line x1="72.49" y1="667.50" x2="72.49" y2="669.60" stroke="#999" stroke-width="0.8"/>
<text x="72.79" y="674.80" font-size="5.3" font-weight="bold" text-anchor="middle" fill="#222" stroke="#222" stroke-width="0.1">112</text>
<line x1="82.64" y1="667.50" x2="82.64" y2="669.60" stroke="#999" stroke-width="0.8"/>
<text x="82.94" y="674.80" font-size="5.3" font-weight="bold" text-anchor="middle" fill="#222" stroke="#222" stroke-width="0.1">140</text>
<line x1="92.78" y1="667.50" x2="92.78" y2="669.60" stroke="#999" stroke-width="0.8"/>
<text x="93.08" y="674.80" font-size="5.3" font-weight="bold" text-anchor="middle" fill="#222" stroke="#222" stroke-width="0.1">168</text>
<line x1="102.93" y1="667.50" x2="102.93" y2="669.60" stroke="#999" stroke-width="0.8"/>
<text x="103.23" y="674.80" font-size="5.3" font-weight="bold" text-anchor="middle" fill="#222" stroke="#222" stroke-width="0.1">196</text>
<line x1="113.08" y1="667.50" x2="113.08" y2="669.60" stroke="#999" stroke-width="0.8"/>
<text x="113.38" y="674.80" font-size="5.3" font-weight="bold" text-anchor="middle" fill="#222" stroke="#222" stroke-width="0.1">224</text>
<line x1="123.22" y1="667.50" x2="123.22" y2="669.60" stroke="#999" stroke-width="0.8"/>
<text x="123.52" y="674.80" font-size="5.3" font-weight="bold" text-anchor="middle" fill="#222" stroke="#222" stroke-width="0.1">252</text>
<line x1="133.37" y1="667.50" x2="133.37" y2="669.60" stroke="#999" stroke-width="0.8"/>
<text x="133.67" y="674.80" font-size="5.3" font-weight="bold" text-anchor="middle" fill="#222" stroke="#222" stroke-width="0.1">280</text>
<line x1="143.52" y1="667.50" x2="143.52" y2="669.60" stroke="#999" stroke-width="0.8"/>
<text x="143.82" y="674.80" font-size="5.3" font-weight="bold" text-anchor="middle" fill="#222" stroke="#222" stroke-width="0.1">308</text>
<line x1="153.67" y1="667.50" x2="153.67" y2="669.60" stroke="#999" stroke-width="0.8"/>
<text x="153.97" y="674.80" font-size="5.3" font-weight="bold" text-anchor="middle" fill="#222" stroke="#222" stroke-width="0.1">336</text>
<line x1="163.81" y1="667.50" x2="163.81" y2="669.60" stroke="#999" stroke-width="0.8"/>
<text x="164.11" y="674.80" font-size="5.3" font-weight="bold" text-anchor="middle" fill="#222" stroke="#222" stroke-width="0.1">364</text>
<line x1="173.96" y1="667.50" x2="173.96" y2="669.60" stroke="#999" stroke-width="0.8"/>
<text x="174.26" y="674.80" font-size="5.3" font-weight="bold" text-anchor="middle" fill="#222" stroke="#222" stroke-width="0.1">392</text>
<line x1="184.11" y1="667.50" x2="184.11" y2="669.60" stroke="#999" stroke-width="0.8"/>
<text x="184.41" y="674.80" font-size="5.3" font-weight="bold" text-anchor="middle" fill="#222" stroke="#222" stroke-width="0.1">420</text>
<line x1="194.26" y1="667.50" x2="194.26" y2="669.60" stroke="#999" stroke-width="0.8"/>
<text x="194.56" y="674.80" font-size="5.3" font-weight="bold" text-anchor="middle" fill="#222" stroke="#222" stroke-width="0.1">448</text>
<line x1="204.40" y1="667.50" x2="204.40" y2="669.60" stroke="#999" stroke-width="0.8"/>
<text x="204.70" y="674.80" font-size="5.3" font-weight="bold" text-anchor="middle" fill="#222" stroke="#222" stroke-width="0.1">476</text>
<line x1="214.55" y1="667.50" x2="214.55" y2="669.60" stroke="#999" stroke-width="0.8"/>
<text x="214.85" y="674.80" font-size="5.3" font-weight="bold" text-anchor="middle" fill="#222" stroke="#222" stroke-width="0.1">504</text>
<line x1="224.70" y1="667.50" x2="224.70" y2="669.60" stroke="#999" stroke-width="0.8"/>
<text x="225.00" y="674.80" font-size="5.3" font-weight="bold" text-anchor="middle" fill="#222" stroke="#222" stroke-width="0.1">532</text>
<line x1="234.84" y1="667.50" x2="234.84" y2="669.60" stroke="#999" stroke-width="0.8"/>
<text x="235.14" y="674.80" font-size="5.3" font-weight="bold" text-anchor="middle" fill="#222" stroke="#222" stroke-width="0.1">560</text>
<line x1="244.99" y1="667.50" x2="244.99" y2="669.60" stroke="#999" stroke-width="0.8"/>
<text x="245.29" y="674.80" font-size="5.3" font-weight="bold" text-anchor="middle" fill="#222" stroke="#222" stroke-width="0.1">588</text>
<text transform="translate(13.90,599.30) rotate(-90)" font-size="7.27" font-weight="bold" text-anchor="middle" fill="#1a1a1a" stroke="#1a1a1a" stroke-width="0.15">Max change in SLD from baseline, %</text>
<text x="135.90" y="689.40" font-size="7.2" font-weight="bold" text-anchor="middle" fill="#111" stroke="#111" stroke-width="0.15">Days from first dose</text>
<polyline points="31.70,615.80 51.40,550.40" fill="none" stroke="#666" stroke-width="0.9"/>
<polyline points="31.70,615.80 51.20,582.50" fill="none" stroke="#666" stroke-width="0.9"/>
<polyline points="31.70,615.80 49.60,600.00" fill="none" stroke="#666" stroke-width="0.9"/>
<polyline points="31.70,615.80 49.60,609.00" fill="none" stroke="#666" stroke-width="0.9"/>
<polyline points="31.70,615.80 44.80,620.80 48.10,619.60 72.10,630.20 90.40,633.10 112.90,626.90" fill="none" stroke="#666" stroke-width="0.9"/>
<polyline points="31.70,615.80 51.00,629.20 71.20,637.90 91.30,638.50 111.50,638.50 132.30,639.80 151.90,639.80 172.10,639.80 191.70,639.80 232.70,628.30" fill="none" stroke="#666" stroke-width="0.9"/>
<polyline points="31.70,615.80 50.00,636.50 69.80,654.80 90.40,657.10 110.70,660.60 132.60,659.10" fill="none" stroke="#666" stroke-width="0.9"/>
<polyline points="31.70,615.80 51.30,649.40 71.70,651.30" fill="none" stroke="#666" stroke-width="0.9"/>
<circle cx="51.40" cy="550.40" r="1.4" fill="#1c2b55"/>
<circle cx="51.20" cy="582.50" r="1.4" fill="#1c2b55"/>
<circle cx="49.60" cy="600.00" r="1.4" fill="#1c2b55"/>
<circle cx="49.60" cy="609.00" r="1.4" fill="#1c2b55"/>
<circle cx="44.80" cy="620.80" r="1.4" fill="#1c2b55"/>
<circle cx="48.10" cy="619.60" r="1.4" fill="#1c2b55"/>
<circle cx="72.10" cy="630.20" r="1.4" fill="#1c2b55"/>
<circle cx="90.40" cy="633.10" r="1.4" fill="#1c2b55"/>
<circle cx="112.90" cy="626.90" r="1.4" fill="#1c2b55"/>
<circle cx="51.00" cy="629.20" r="1.4" fill="#1c2b55"/>
<circle cx="71.20" cy="637.90" r="1.4" fill="#1c2b55"/>
<circle cx="91.30" cy="638.50" r="1.4" fill="#1c2b55"/>
<circle cx="111.50" cy="638.50" r="1.4" fill="#1c2b55"/>
<circle cx="132.30" cy="639.80" r="1.4" fill="#1c2b55"/>
<circle cx="151.90" cy="639.80" r="1.4" fill="#1c2b55"/>
<circle cx="172.10" cy="639.80" r="1.4" fill="#1c2b55"/>
<circle cx="191.70" cy="639.80" r="1.4" fill="#1c2b55"/>
<circle cx="232.70" cy="628.30" r="1.4" fill="#1c2b55"/>
<circle cx="50.00" cy="636.50" r="1.4" fill="#1c2b55"/>
<circle cx="69.80" cy="654.80" r="1.4" fill="#1c2b55"/>
<circle cx="90.40" cy="657.10" r="1.4" fill="#1c2b55"/>
<circle cx="110.70" cy="660.60" r="1.4" fill="#1c2b55"/>
<circle cx="132.60" cy="659.10" r="1.4" fill="#1c2b55"/>
<circle cx="51.30" cy="649.40" r="1.4" fill="#1c2b55"/>
<circle cx="71.70" cy="651.30" r="1.4" fill="#1c2b55"/>
<text transform="translate(258.40,523.00) scale(1.05,1.25)" font-size="15" font-weight="bold" fill="#111" stroke="#111" stroke-width="0.3">D</text>
<text x="407.50" y="523.80" font-size="10.8" font-weight="bold" text-anchor="middle" fill="#111">Osteosarcoma</text>
<line x1="300.00" y1="632.35" x2="518.00" y2="632.35" stroke="#cfcfcf" stroke-width="1"/>
<line x1="300.00" y1="530.50" x2="300.00" y2="667.50" stroke="#aaa" stroke-width="1"/>
<line x1="300.00" y1="667.50" x2="520.00" y2="667.50" stroke="#aaa" stroke-width="1"/>
<line x1="297.80" y1="665.55" x2="300.00" y2="665.55" stroke="#999" stroke-width="0.8"/>
<text transform="translate(296.80,667.85) scale(1,1.1)" font-size="5.4" font-weight="bold" text-anchor="end" fill="#222" stroke="#222" stroke-width="0.12">&#8211;90</text>
<line x1="297.80" y1="648.95" x2="300.00" y2="648.95" stroke="#999" stroke-width="0.8"/>
<text transform="translate(296.80,651.25) scale(1,1.1)" font-size="5.4" font-weight="bold" text-anchor="end" fill="#222" stroke="#222" stroke-width="0.12">&#8211;60</text>
<line x1="297.80" y1="632.35" x2="300.00" y2="632.35" stroke="#999" stroke-width="0.8"/>
<text transform="translate(296.80,634.65) scale(1,1.1)" font-size="5.4" font-weight="bold" text-anchor="end" fill="#222" stroke="#222" stroke-width="0.12">&#8211;30</text>
<line x1="297.80" y1="615.75" x2="300.00" y2="615.75" stroke="#999" stroke-width="0.8"/>
<text transform="translate(296.80,618.05) scale(1,1.1)" font-size="5.4" font-weight="bold" text-anchor="end" fill="#222" stroke="#222" stroke-width="0.12">0</text>
<line x1="297.80" y1="599.15" x2="300.00" y2="599.15" stroke="#999" stroke-width="0.8"/>
<text transform="translate(296.80,601.45) scale(1,1.1)" font-size="5.4" font-weight="bold" text-anchor="end" fill="#222" stroke="#222" stroke-width="0.12">30</text>
<line x1="297.80" y1="582.55" x2="300.00" y2="582.55" stroke="#999" stroke-width="0.8"/>
<text transform="translate(296.80,584.85) scale(1,1.1)" font-size="5.4" font-weight="bold" text-anchor="end" fill="#222" stroke="#222" stroke-width="0.12">60</text>
<line x1="297.80" y1="565.95" x2="300.00" y2="565.95" stroke="#999" stroke-width="0.8"/>
<text transform="translate(296.80,568.25) scale(1,1.1)" font-size="5.4" font-weight="bold" text-anchor="end" fill="#222" stroke="#222" stroke-width="0.12">90</text>
<line x1="297.80" y1="549.35" x2="300.00" y2="549.35" stroke="#999" stroke-width="0.8"/>
<text transform="translate(296.80,551.65) scale(1,1.1)" font-size="5.4" font-weight="bold" text-anchor="end" fill="#222" stroke="#222" stroke-width="0.12">120</text>
<line x1="297.80" y1="532.75" x2="300.00" y2="532.75" stroke="#999" stroke-width="0.8"/>
<text transform="translate(296.80,535.05) scale(1,1.1)" font-size="5.4" font-weight="bold" text-anchor="end" fill="#222" stroke="#222" stroke-width="0.12">150</text>
<line x1="301.90" y1="667.50" x2="301.90" y2="669.60" stroke="#999" stroke-width="0.8"/>
<text x="302.20" y="674.80" font-size="5.3" font-weight="bold" text-anchor="middle" fill="#222" stroke="#222" stroke-width="0.1">0</text>
<line x1="312.05" y1="667.50" x2="312.05" y2="669.60" stroke="#999" stroke-width="0.8"/>
<text x="312.35" y="674.80" font-size="5.3" font-weight="bold" text-anchor="middle" fill="#222" stroke="#222" stroke-width="0.1">28</text>
<line x1="322.19" y1="667.50" x2="322.19" y2="669.60" stroke="#999" stroke-width="0.8"/>
<text x="322.49" y="674.80" font-size="5.3" font-weight="bold" text-anchor="middle" fill="#222" stroke="#222" stroke-width="0.1">56</text>
<line x1="332.34" y1="667.50" x2="332.34" y2="669.60" stroke="#999" stroke-width="0.8"/>
<text x="332.64" y="674.80" font-size="5.3" font-weight="bold" text-anchor="middle" fill="#222" stroke="#222" stroke-width="0.1">84</text>
<line x1="342.49" y1="667.50" x2="342.49" y2="669.60" stroke="#999" stroke-width="0.8"/>
<text x="342.79" y="674.80" font-size="5.3" font-weight="bold" text-anchor="middle" fill="#222" stroke="#222" stroke-width="0.1">112</text>
<line x1="352.64" y1="667.50" x2="352.64" y2="669.60" stroke="#999" stroke-width="0.8"/>
<text x="352.94" y="674.80" font-size="5.3" font-weight="bold" text-anchor="middle" fill="#222" stroke="#222" stroke-width="0.1">140</text>
<line x1="362.78" y1="667.50" x2="362.78" y2="669.60" stroke="#999" stroke-width="0.8"/>
<text x="363.08" y="674.80" font-size="5.3" font-weight="bold" text-anchor="middle" fill="#222" stroke="#222" stroke-width="0.1">168</text>
<line x1="372.93" y1="667.50" x2="372.93" y2="669.60" stroke="#999" stroke-width="0.8"/>
<text x="373.23" y="674.80" font-size="5.3" font-weight="bold" text-anchor="middle" fill="#222" stroke="#222" stroke-width="0.1">196</text>
<line x1="383.08" y1="667.50" x2="383.08" y2="669.60" stroke="#999" stroke-width="0.8"/>
<text x="383.38" y="674.80" font-size="5.3" font-weight="bold" text-anchor="middle" fill="#222" stroke="#222" stroke-width="0.1">224</text>
<line x1="393.22" y1="667.50" x2="393.22" y2="669.60" stroke="#999" stroke-width="0.8"/>
<text x="393.52" y="674.80" font-size="5.3" font-weight="bold" text-anchor="middle" fill="#222" stroke="#222" stroke-width="0.1">252</text>
<line x1="403.37" y1="667.50" x2="403.37" y2="669.60" stroke="#999" stroke-width="0.8"/>
<text x="403.67" y="674.80" font-size="5.3" font-weight="bold" text-anchor="middle" fill="#222" stroke="#222" stroke-width="0.1">280</text>
<line x1="413.52" y1="667.50" x2="413.52" y2="669.60" stroke="#999" stroke-width="0.8"/>
<text x="413.82" y="674.80" font-size="5.3" font-weight="bold" text-anchor="middle" fill="#222" stroke="#222" stroke-width="0.1">308</text>
<line x1="423.67" y1="667.50" x2="423.67" y2="669.60" stroke="#999" stroke-width="0.8"/>
<text x="423.97" y="674.80" font-size="5.3" font-weight="bold" text-anchor="middle" fill="#222" stroke="#222" stroke-width="0.1">336</text>
<line x1="433.81" y1="667.50" x2="433.81" y2="669.60" stroke="#999" stroke-width="0.8"/>
<text x="434.11" y="674.80" font-size="5.3" font-weight="bold" text-anchor="middle" fill="#222" stroke="#222" stroke-width="0.1">364</text>
<line x1="443.96" y1="667.50" x2="443.96" y2="669.60" stroke="#999" stroke-width="0.8"/>
<text x="444.26" y="674.80" font-size="5.3" font-weight="bold" text-anchor="middle" fill="#222" stroke="#222" stroke-width="0.1">392</text>
<line x1="454.11" y1="667.50" x2="454.11" y2="669.60" stroke="#999" stroke-width="0.8"/>
<text x="454.41" y="674.80" font-size="5.3" font-weight="bold" text-anchor="middle" fill="#222" stroke="#222" stroke-width="0.1">420</text>
<line x1="464.26" y1="667.50" x2="464.26" y2="669.60" stroke="#999" stroke-width="0.8"/>
<text x="464.56" y="674.80" font-size="5.3" font-weight="bold" text-anchor="middle" fill="#222" stroke="#222" stroke-width="0.1">448</text>
<line x1="474.40" y1="667.50" x2="474.40" y2="669.60" stroke="#999" stroke-width="0.8"/>
<text x="474.70" y="674.80" font-size="5.3" font-weight="bold" text-anchor="middle" fill="#222" stroke="#222" stroke-width="0.1">476</text>
<line x1="484.55" y1="667.50" x2="484.55" y2="669.60" stroke="#999" stroke-width="0.8"/>
<text x="484.85" y="674.80" font-size="5.3" font-weight="bold" text-anchor="middle" fill="#222" stroke="#222" stroke-width="0.1">504</text>
<line x1="494.70" y1="667.50" x2="494.70" y2="669.60" stroke="#999" stroke-width="0.8"/>
<text x="495.00" y="674.80" font-size="5.3" font-weight="bold" text-anchor="middle" fill="#222" stroke="#222" stroke-width="0.1">532</text>
<line x1="504.84" y1="667.50" x2="504.84" y2="669.60" stroke="#999" stroke-width="0.8"/>
<text x="505.14" y="674.80" font-size="5.3" font-weight="bold" text-anchor="middle" fill="#222" stroke="#222" stroke-width="0.1">560</text>
<line x1="514.99" y1="667.50" x2="514.99" y2="669.60" stroke="#999" stroke-width="0.8"/>
<text x="515.29" y="674.80" font-size="5.3" font-weight="bold" text-anchor="middle" fill="#222" stroke="#222" stroke-width="0.1">588</text>
<text transform="translate(281.70,599.30) rotate(-90)" font-size="7.27" font-weight="bold" text-anchor="middle" fill="#1a1a1a" stroke="#1a1a1a" stroke-width="0.15">Max change in SLD from baseline, %</text>
<text x="409.90" y="689.40" font-size="7.2" font-weight="bold" text-anchor="middle" fill="#111" stroke="#111" stroke-width="0.15">Days from first dose</text>
<polyline points="303.00,615.30 321.30,538.00" fill="none" stroke="#6a6c78" stroke-width="0.9"/>
<polyline points="303.00,615.30 322.50,597.20" fill="none" stroke="#6a6c78" stroke-width="0.9"/>
<polyline points="303.00,615.30 322.80,602.50" fill="none" stroke="#6a6c78" stroke-width="0.9"/>
<polyline points="303.00,615.30 321.10,605.40" fill="none" stroke="#6a6c78" stroke-width="0.9"/>
<polyline points="303.00,615.30 321.10,608.30 341.80,604.20" fill="none" stroke="#6a6c78" stroke-width="0.9"/>
<polyline points="303.00,615.30 321.00,612.60" fill="none" stroke="#6a6c78" stroke-width="0.9"/>
<polyline points="303.00,615.30 321.00,611.50" fill="none" stroke="#6a6c78" stroke-width="0.9"/>
<polyline points="303.00,615.30 321.00,614.40" fill="none" stroke="#6a6c78" stroke-width="0.9"/>
<polyline points="303.00,615.30 321.30,635.00 341.80,643.00 362.50,647.50 383.00,650.00 398.80,647.50" fill="none" stroke="#6a6c78" stroke-width="0.9"/>
<polyline points="303.00,615.30 321.30,648.00 331.30,647.00 341.80,642.50 362.00,628.00" fill="none" stroke="#6a6c78" stroke-width="0.9"/>
<circle cx="321.30" cy="538.00" r="1.3" fill="#F6B868"/>
<circle cx="322.50" cy="597.20" r="1.3" fill="#F6B868"/>
<circle cx="322.80" cy="602.50" r="1.3" fill="#F6B868"/>
<circle cx="321.10" cy="605.40" r="1.3" fill="#F6B868"/>
<circle cx="321.10" cy="608.30" r="1.3" fill="#F6B868"/>
<circle cx="341.80" cy="604.20" r="1.3" fill="#F6B868"/>
<circle cx="321.00" cy="612.60" r="1.3" fill="#F6B868"/>
<circle cx="321.00" cy="611.50" r="1.3" fill="#F6B868"/>
<circle cx="321.00" cy="614.40" r="1.3" fill="#F6B868"/>
<circle cx="321.30" cy="635.00" r="1.3" fill="#F6B868"/>
<circle cx="341.80" cy="643.00" r="1.3" fill="#F6B868"/>
<circle cx="362.50" cy="647.50" r="1.3" fill="#F6B868"/>
<circle cx="383.00" cy="650.00" r="1.3" fill="#F6B868"/>
<circle cx="398.80" cy="647.50" r="1.3" fill="#F6B868"/>
<circle cx="321.30" cy="648.00" r="1.3" fill="#F6B868"/>
<circle cx="331.30" cy="647.00" r="1.3" fill="#F6B868"/>
<circle cx="341.80" cy="642.50" r="1.3" fill="#F6B868"/>
<circle cx="362.00" cy="628.00" r="1.3" fill="#F6B868"/>
<text x="83.80" y="708.40" font-size="9.1" font-weight="bold" text-anchor="middle" fill="#111">Baseline</text>
<text x="197.60" y="708.40" font-size="9.1" font-weight="bold" text-anchor="middle" fill="#111">Tumor assessment No. 2</text>
<text x="344.50" y="708.60" font-size="9.1" font-weight="bold" text-anchor="middle" fill="#111">Baseline</text>
<text x="458.10" y="708.60" font-size="9.0" font-weight="bold" text-anchor="middle" fill="#111">Tumor assessment No. 1</text>
<rect x="31.00" y="713.30" width="219.00" height="90.20" fill="#060606"/>
<rect x="287.00" y="713.80" width="218.80" height="89.70" fill="#060606"/>
<rect x="31.00" y="803.50" width="219.00" height="1.50" fill="#a8a8a8"/>
<rect x="287.00" y="803.50" width="218.80" height="1.50" fill="#3a3a3a"/>
<defs><clipPath id="cpC"><rect x="31" y="713.3" width="219" height="90"/></clipPath><clipPath id="cpD"><rect x="287" y="713.8" width="218.5" height="89.5"/></clipPath></defs>
<defs><filter id="bl" x="-5%" y="-5%" width="110%" height="110%"><feGaussianBlur stdDeviation="0.7"/></filter><filter id="bl2" x="-20%" y="-20%" width="140%" height="140%"><feGaussianBlur stdDeviation="1.2"/></filter></defs>
<g clip-path="url(#cpC)">
<g filter="url(#bl)">
<path d="M60,717.8 C66,716.4 74,716.3 79,717 C84,719.8 100,719.8 107,717.8 C110,717 112,717.2 114,717.6 C127,721 136.4,738 136.4,760 C136.4,783 118,801.8 87,801.8 C56,801.8 38,783 38,760 C38,738 47,721 60,717.8 Z" fill="#d3d3d3" stroke="#bdbdbd" stroke-width="1.2"/>
<ellipse cx="87.2" cy="761.2" rx="40.2" ry="32.6" fill="none" stroke="#c4c4c4" stroke-width="3"/>
<ellipse cx="87.2" cy="732.6" rx="35.2" ry="6" fill="#dadada"/>
<path d="M78,737 C82,734 92,734 96,738 L95,752 C93,760 92,770 97,778 L97,792 C92,796 82,796 77,792 L80,776 C84,770 83,762 80,756Z" fill="#d3d3d3"/>
<ellipse cx="86.5" cy="756.4" rx="6" ry="8" fill="#e4e4e4"/>
<path d="M62,745 C56,748 53.5,760 54.2,772 C55,782 60,788.5 68,788.2 C76,787.5 80,782 84,777 C87.5,773 87.5,768 83.5,764 C81,758 79,748 72,745 C68,743.5 65,744 62,745 Z" fill="#3f3f3f"/>
<path d="M100,746.5 C108,745 115,750 117.6,760 C118.6,770 116.5,780 110,784.8 C104,786.5 97,784 94,778 C91,772 92.5,765 94,759 C95,753 96,747.5 100,746.5 Z" fill="#3f3f3f"/>
<path d="M80,775 C84,772 90,772 94,775 L95,787 C91,791 83,791 79,787Z" fill="#e0e0e0"/>
<circle cx="86" cy="762.4" r="2.0" fill="#151515"/>
<ellipse cx="67.6" cy="771" rx="6" ry="5.4" fill="#ededed"/>
</g>
<g opacity="0.8"><circle cx="71.3" cy="759.7" r="0.47" fill="#7a7a7a"/><circle cx="65.0" cy="773.2" r="0.55" fill="#7a7a7a"/><circle cx="72.7" cy="765.7" r="0.54" fill="#7a7a7a"/><circle cx="70.4" cy="758.8" r="0.59" fill="#7a7a7a"/><circle cx="60.3" cy="765.4" r="0.36" fill="#7a7a7a"/><circle cx="60.4" cy="765.9" r="0.47" fill="#7a7a7a"/><circle cx="60.7" cy="758.8" r="0.40" fill="#7a7a7a"/><circle cx="65.2" cy="760.9" r="0.36" fill="#7a7a7a"/><circle cx="72.8" cy="769.9" r="0.51" fill="#7a7a7a"/><circle cx="62.7" cy="775.5" r="0.53" fill="#7a7a7a"/><circle cx="74.7" cy="765.4" r="0.56" fill="#7a7a7a"/><circle cx="69.4" cy="761.3" r="0.50" fill="#7a7a7a"/><circle cx="66.1" cy="771.0" r="0.36" fill="#7a7a7a"/><circle cx="60.9" cy="778.1" r="0.45" fill="#7a7a7a"/></g>
<g opacity="0.8"><circle cx="111.7" cy="773.6" r="0.52" fill="#7a7a7a"/><circle cx="101.2" cy="769.4" r="0.50" fill="#7a7a7a"/><circle cx="106.6" cy="755.1" r="0.46" fill="#7a7a7a"/><circle cx="102.9" cy="773.1" r="0.60" fill="#7a7a7a"/><circle cx="103.9" cy="758.6" r="0.36" fill="#7a7a7a"/><circle cx="101.4" cy="762.2" r="0.57" fill="#7a7a7a"/><circle cx="105.5" cy="767.9" r="0.41" fill="#7a7a7a"/><circle cx="97.7" cy="766.3" r="0.60" fill="#7a7a7a"/><circle cx="108.5" cy="755.8" r="0.57" fill="#7a7a7a"/><circle cx="110.9" cy="773.5" r="0.58" fill="#7a7a7a"/><circle cx="110.3" cy="775.3" r="0.44" fill="#7a7a7a"/><circle cx="98.2" cy="774.1" r="0.53" fill="#7a7a7a"/><circle cx="104.2" cy="767.0" r="0.47" fill="#7a7a7a"/><circle cx="113.5" cy="766.0" r="0.56" fill="#7a7a7a"/><circle cx="102.1" cy="778.3" r="0.57" fill="#7a7a7a"/><circle cx="104.2" cy="768.2" r="0.58" fill="#7a7a7a"/></g>
<path d="M69.6,752.5 L72.8,752.5 L73.2,766 L69.8,766Z" fill="#c3282c" opacity="0.95"/>
<circle cx="75" cy="758" r="1.1" fill="#3a8a4a" opacity="0.7"/><circle cx="66" cy="759" r="0.9" fill="#3a8a4a" opacity="0.6"/><circle cx="77" cy="764" r="0.9" fill="#c05a7a" opacity="0.6"/>
<g filter="url(#bl)">
<path d="M176,715 C183,714.2 188,714.2 191,714.8 C193,716 195,716 198,714.8 C204,714.2 209,714.2 215,715 C234,720 246,737 246,757 C246,781 225,800 196,800 C167,800 146,781 146,757 C146,737 157,720 176,715 Z" fill="#d3d3d3" stroke="#bdbdbd" stroke-width="1.2"/>
<ellipse cx="195.6" cy="759.2" rx="40.6" ry="33.4" fill="none" stroke="#c4c4c4" stroke-width="3"/>
<ellipse cx="195.6" cy="729.8000000000001" rx="35.6" ry="6" fill="#dadada"/>
<path d="M188,734 C192,731 202,731 206,735 L204,750 C201,758 200,768 205,776 L205,792 C200,796 190,796 185,792 L188,776 C192,770 192,760 189,752Z" fill="#d3d3d3"/>
<ellipse cx="196.9" cy="748.6" rx="6" ry="8" fill="#e4e4e4"/>
<path d="M174,741.5 C167,744 164.3,756 164.5,768 C165,780 170,787.8 178,787.8 C187,787.2 192,781 194,776 C197,771 199,767 194.5,763 C192,757 190,747 184,742.5 C180,740.5 177,740.5 174,741.5 Z" fill="#3f3f3f"/>
<path d="M208,742.5 C217,741.5 224,748 226.7,758 C227.7,768 225,777 219,780.8 C213,782.6 206,780 203,774 C200.5,768 201,760 202,753 C203,747 204.5,743 208,742.5 Z" fill="#3f3f3f"/>
<path d="M190,774 C194,771 200,771 204,774 L205,786 C201,790 193,790 189,786Z" fill="#e0e0e0"/>
<circle cx="196.4" cy="754.6" r="2.0" fill="#151515"/>
<ellipse cx="180" cy="769" rx="3" ry="2" fill="#d8d8d8"/>
</g>
<g opacity="0.8"><circle cx="173.3" cy="769.3" r="0.44" fill="#7a7a7a"/><circle cx="179.9" cy="771.8" r="0.37" fill="#7a7a7a"/><circle cx="173.7" cy="760.0" r="0.60" fill="#7a7a7a"/><circle cx="177.5" cy="778.1" r="0.47" fill="#7a7a7a"/><circle cx="180.5" cy="757.5" r="0.51" fill="#7a7a7a"/><circle cx="184.6" cy="768.7" r="0.54" fill="#7a7a7a"/><circle cx="182.6" cy="770.7" r="0.43" fill="#7a7a7a"/><circle cx="177.5" cy="774.6" r="0.57" fill="#7a7a7a"/><circle cx="176.1" cy="777.0" r="0.46" fill="#7a7a7a"/><circle cx="176.9" cy="771.8" r="0.43" fill="#7a7a7a"/><circle cx="178.1" cy="764.6" r="0.44" fill="#7a7a7a"/><circle cx="179.5" cy="770.5" r="0.58" fill="#7a7a7a"/><circle cx="181.1" cy="757.9" r="0.57" fill="#7a7a7a"/><circle cx="179.2" cy="774.4" r="0.40" fill="#7a7a7a"/></g>
<g opacity="0.8"><circle cx="212.1" cy="752.3" r="0.37" fill="#7a7a7a"/><circle cx="212.2" cy="773.7" r="0.55" fill="#7a7a7a"/><circle cx="218.8" cy="754.2" r="0.48" fill="#7a7a7a"/><circle cx="210.0" cy="752.8" r="0.38" fill="#7a7a7a"/><circle cx="219.4" cy="753.4" r="0.43" fill="#7a7a7a"/><circle cx="216.3" cy="768.5" r="0.56" fill="#7a7a7a"/><circle cx="215.9" cy="766.8" r="0.48" fill="#7a7a7a"/><circle cx="208.2" cy="761.3" r="0.37" fill="#7a7a7a"/><circle cx="214.9" cy="756.4" r="0.58" fill="#7a7a7a"/><circle cx="215.3" cy="772.7" r="0.56" fill="#7a7a7a"/><circle cx="214.2" cy="759.6" r="0.50" fill="#7a7a7a"/><circle cx="212.8" cy="752.5" r="0.43" fill="#7a7a7a"/><circle cx="210.0" cy="763.0" r="0.47" fill="#7a7a7a"/><circle cx="208.5" cy="759.6" r="0.40" fill="#7a7a7a"/><circle cx="216.4" cy="755.7" r="0.44" fill="#7a7a7a"/><circle cx="218.4" cy="757.0" r="0.49" fill="#7a7a7a"/></g>
<path d="M180,751 L185.2,750.6 L184.6,766 L178.8,767Z" fill="#c8282a" opacity="0.9"/>
<circle cx="186" cy="760" r="1" fill="#3a8a4a" opacity="0.7"/><circle cx="177" cy="758" r="0.9" fill="#3a8a4a" opacity="0.6"/>
</g>
<g clip-path="url(#cpD)">
<g filter="url(#bl)">
<ellipse cx="345.3" cy="757.6" rx="48" ry="37.6" fill="#4a4a4a"/>
<ellipse cx="345.3" cy="757.8000000000001" rx="46.4" ry="36.0" fill="#2e2e2e"/>
<ellipse cx="345.3" cy="757.9" rx="45" ry="34.800000000000004" fill="#858585"/>
<ellipse cx="345.3" cy="758.1" rx="40.5" ry="30.8" fill="#050505"/>
<ellipse cx="345.3" cy="758.1" rx="41.4" ry="31.700000000000003" fill="none" stroke="#c4c4c4" stroke-width="1.5" stroke-dasharray="5 8"/>
<ellipse cx="343.3" cy="725.5" rx="10" ry="2.2" fill="#9a9a9a"/>
<path d="M323.3,791.2 C327.3,783.2 335.3,775.2 345.3,775.2 C355.3,775.2 363.3,781.2 371.3,789.2 C355.3,793.2 337.3,793.2 323.3,791.2Z" fill="#707070"/>
<path d="M351,788 C355,779 364,770 377,764.5 C382,762.5 385.5,766 385.8,772 C385.5,780 380,786.5 372,789 C363,790 356,789.5 351,788 Z" fill="#8e8c7a"/>
<ellipse cx="343.8" cy="778.2" rx="5.5" ry="5.5" fill="#d4d4d4"/>
<ellipse cx="343.8" cy="778.7" rx="2.2" ry="2.4" fill="#5a5a5a"/>
<ellipse cx="343.8" cy="786.2" rx="6.5" ry="3" fill="#b0b0b0"/>
<path d="M335,742 C334.5,735 340,731 346,732 C350,729 358,729.5 362.5,732.5 C368.5,736 370,743 368,750 C366,757 360,761.5 353,761 C349,763.5 344,765.5 340,764.5 L338.5,761 C342,758 343,754 340,751.5 C336,749.5 335,746 335,742Z" fill="#c4c4c4"/>
<path d="M335,742 C334.5,735 340,731 346,732 C350,729 358,729.5 362.5,732.5 C368.5,736 370,743 368,750 C366,757 360,761.5 353,761 C349,763.5 344,765.5 340,764.5 L338.5,761 C342,758 343,754 340,751.5 C336,749.5 335,746 335,742Z" fill="#dadada" transform="translate(352,746) scale(0.8) translate(-352,-746)"/>
<circle cx="347.5" cy="769" r="3.4" fill="#cacaca"/>
</g>
<path d="M371.1,752.5 L372.9,752.5 L372.9,763 L374.6,763 L372,767 L369.4,763 L371.1,763Z" fill="#d42424"/>
<g filter="url(#bl)">
<ellipse cx="456.2" cy="758.1" rx="45.8" ry="37.1" fill="#4a4a4a"/>
<ellipse cx="456.2" cy="758.3000000000001" rx="44.199999999999996" ry="35.5" fill="#2e2e2e"/>
<ellipse cx="456.2" cy="758.4" rx="42.8" ry="34.300000000000004" fill="#858585"/>
<ellipse cx="456.2" cy="758.6" rx="38.3" ry="30.3" fill="#050505"/>
<ellipse cx="456.2" cy="758.6" rx="39.199999999999996" ry="31.200000000000003" fill="none" stroke="#c4c4c4" stroke-width="1.5" stroke-dasharray="5 8"/>
<ellipse cx="454.2" cy="726.5" rx="10" ry="2.2" fill="#9a9a9a"/>
<path d="M434.2,791.2 C438.2,783.2 446.2,775.2 456.2,775.2 C466.2,775.2 474.2,781.2 482.2,789.2 C466.2,793.2 448.2,793.2 434.2,791.2Z" fill="#707070"/>
<path d="M462,788 C466,781 474,775.5 484.5,772 C489.5,771 492.5,775 492,780 C490.5,785.5 483,788.5 475,789.5 C468,790 464,789.5 462,788 Z" fill="#8e8c7a"/>
<ellipse cx="454.7" cy="778.2" rx="5.5" ry="5.5" fill="#d4d4d4"/>
<ellipse cx="454.7" cy="778.7" rx="2.2" ry="2.4" fill="#5a5a5a"/>
<ellipse cx="454.7" cy="786.2" rx="6.5" ry="3" fill="#b0b0b0"/>
<path d="M449,741 C448.5,734 453,729.5 460,729.5 C466,728 474,729.5 478.5,733 C482,737 481.5,745 480,751 C478,757 472,760.5 465,760 C460,760 455,757 452,752 C449.5,748.5 449,745 449,741Z" fill="#c4c4c4"/>
<path d="M449,741 C448.5,734 453,729.5 460,729.5 C466,728 474,729.5 478.5,733 C482,737 481.5,745 480,751 C478,757 472,760.5 465,760 C460,760 455,757 452,752 C449.5,748.5 449,745 449,741Z" fill="#dadada" transform="translate(465,744.5) scale(0.8) translate(-465,-744.5)"/>
<circle cx="460.8" cy="766.4" r="3.4" fill="#cacaca"/>
</g>
<path d="M483.1,758 L484.9,758 L484.9,767 L486.6,767 L484,771 L481.4,767 L483.1,767Z" fill="#d42424"/>
</g>
</svg>
</body></html>
